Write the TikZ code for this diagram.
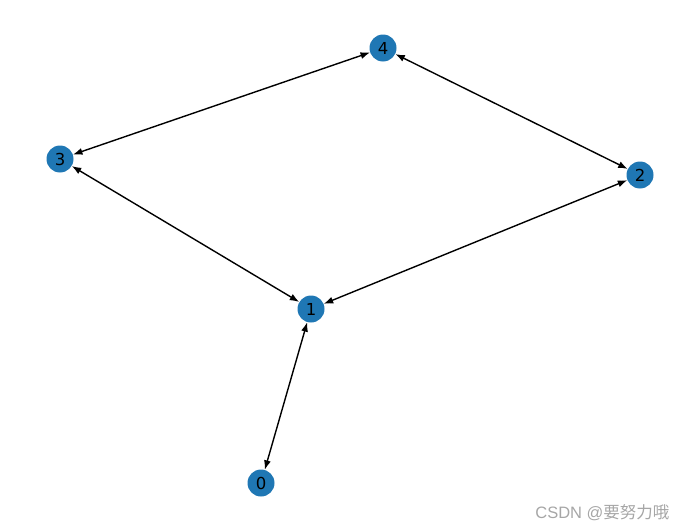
\documentclass[tikz,border=0pt]{standalone}
\usepackage{fontspec}
\setmainfont{DejaVu Sans}
\newfontfamily\wmfont{Liberation Sans}
\newfontfamily\cjk{Noto Sans CJK SC}
\usetikzlibrary{arrows.meta}
\definecolor{nodeblue}{HTML}{1F77B4}
\tikzset{
    vert/.style={circle, fill=nodeblue, minimum size=27pt, inner sep=0pt, font=\fontsize{16.5}{16.5}\selectfont},
    link/.style={{Latex[length=9.5pt,width=7pt]}-{Latex[length=9.5pt,width=7pt]}, line width=1.4pt}
}
\begin{document}
\begin{tikzpicture}[x=1pt,y=-1pt]
            \useasboundingbox (0,0) rectangle (689,530);
            \node [vert] (v0) at(261,483) {0};
            \node [vert] (v1) at(311,309) {1};
            \node [vert] (v2) at(640,175) {2};
            \node [vert] (v3) at(60,159) {3};
            \node [vert] (v4) at(383,48) {4};
            \draw [link] (v0)--(v1);
            \draw [link] (v1)--(v2);
            \draw [link] (v1)--(v3);
            \draw [link] (v2)--(v4);
            \draw [link] (v3)--(v4);
            \node [text=black!35, anchor=base east, font=\fontsize{16.5}{16.5}\selectfont] (mark) at(673,518) {\wmfont CSDN @\cjk 要努力哦};
        \end{tikzpicture}
\end{document}
